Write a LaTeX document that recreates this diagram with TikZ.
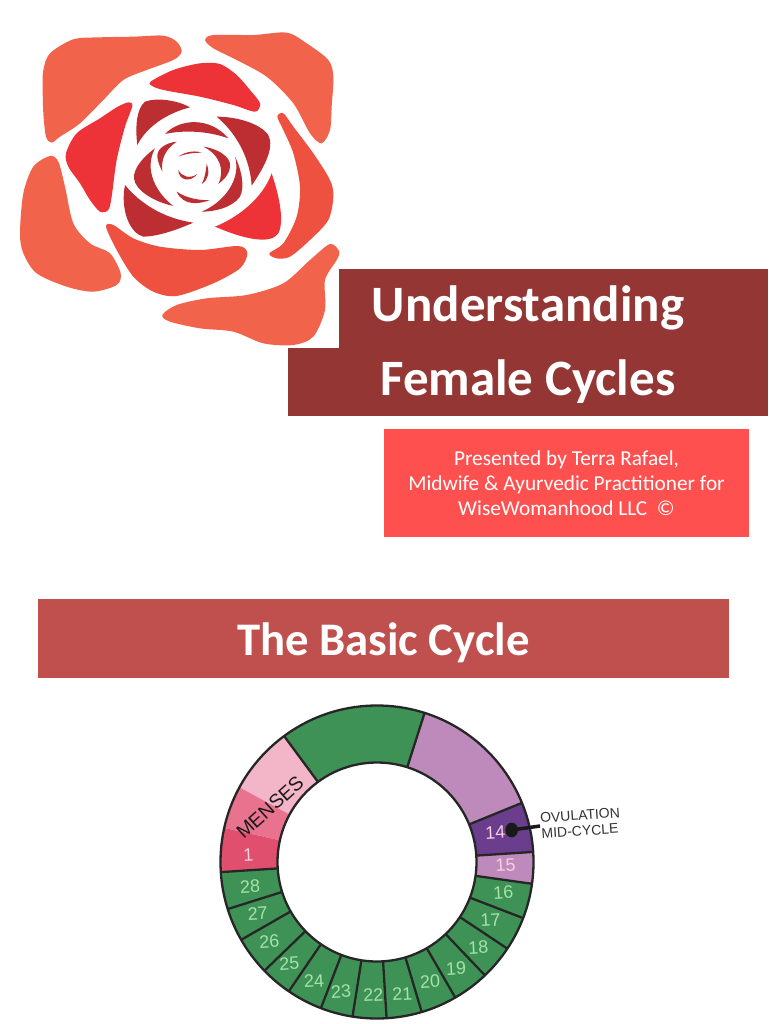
\documentclass[tikz,border=0pt]{standalone}
\usepackage{fontspec}
\setmainfont{Carlito}
\newfontfamily\arialfont{Liberation Sans}
\definecolor{petalA}{HTML}{F1634A}
\definecolor{petalB}{HTML}{EF5140}
\definecolor{petalC}{HTML}{EE3338}
\definecolor{petalD}{HTML}{BD2E33}
\definecolor{barDark}{HTML}{943634}
\definecolor{barMid}{HTML}{C0504D}
\definecolor{barBright}{HTML}{FF5050}
\definecolor{ringGreen}{HTML}{3F9255}
\definecolor{ringLilac}{HTML}{BE8ABB}
\definecolor{ringPurple}{HTML}{6A3D8D}
\definecolor{ringPaleA}{HTML}{F2B6C8}
\definecolor{ringPaleB}{HTML}{E9728F}
\definecolor{ringPaleC}{HTML}{E0506E}
\definecolor{numGreen}{HTML}{A5E3A8}
\definecolor{numPink}{HTML}{F6CFE0}
\tikzset{
  petal/.style={fill=#1,draw=none},
  daynum/.style={font=\arialfont\fontsize{18}{20}\selectfont,text=numGreen,inner sep=0pt,rotate=3},
  daypink/.style={daynum,text=numPink},
  sidelabel/.style={font=\arialfont\fontsize{14}{16}\selectfont,text=black!80,inner sep=0pt,rotate=4},
  spoke/.style={draw=black!85,line width=2.3pt},
}
\newcommand{\pet}[2]{\fill[petal=#1] plot[smooth cycle,tension=0.5] coordinates {#2};}
\newcommand{\sector}[3]{\fill[#3] (#1:156.5) arc[start angle=#1,end angle=#2,radius=156.5] -- (#2:99.5) arc[start angle=#2,end angle=#1,radius=99.5] -- cycle;}
\begin{document}
\begin{tikzpicture}[x=1pt,y=-1pt]
\useasboundingbox (0,0) rectangle (768,1024);
\fill[white] (0,0) rectangle (768,1024);
% rose, in 3x crop coordinates
\begin{scope}[shift={(0,20)},x=0.33333pt,y=-0.33333pt]
\pet{petalA}{(130,150)(150,100)(220,58)(300,52)(400,50)(490,47)(530,65)(545,95)(520,120)(440,150)(370,180)(310,240)(240,310)(180,350)(155,368)(138,350)(130,280)(128,200)}
\pet{petalA}{(615,60)(640,45)(760,45)(860,38)(920,70)(985,120)(1000,170)(995,260)(990,330)(965,370)(930,340)(880,250)(800,170)(700,115)(640,85)}
\pet{petalC}{(452,185)(520,150)(600,130)(660,132)(710,165)(750,210)(780,250)(765,275)(700,255)(600,230)(500,212)(460,200)}
\pet{petalC}{(198,400)(230,340)(300,295)(350,262)(385,247)(397,258)(375,320)(350,420)(335,530)(325,570)(300,575)(270,540)(240,490)(205,440)}
\pet{petalB}{(832,290)(850,280)(880,320)(940,400)(990,480)(1000,530)(985,600)(930,660)(870,710)(830,715)(808,700)(850,670)(890,590)(900,500)(880,400)(850,330)}
\pet{petalA}{(60,640)(70,520)(100,440)(150,408)(175,425)(195,500)(220,610)(270,670)(330,700)(362,760)(350,795)(280,815)(200,800)(110,760)(70,700)}
\pet{petalB}{(318,620)(340,615)(400,655)(480,680)(600,690)(715,678)(742,700)(720,745)(640,790)(530,828)(460,815)(400,770)(350,690)}
\pet{petalA}{(487,885)(530,855)(620,835)(740,825)(850,790)(930,720)(990,672)(1018,695)(1010,720)(975,780)(975,870)(940,950)(880,975)(790,970)(700,935)(600,925)(510,905)}
\fill[petalC] (815,460) .. controls (835,520) and (855,600) .. (835,640) .. controls (815,670) and (750,665) .. (645,620) .. controls (720,590) and (790,530) .. (815,460) -- cycle;
\fill[petalD] (375,495) .. controls (420,550) and (490,595) .. (580,608) .. controls (530,630) and (470,650) .. (430,650) .. controls (390,640) and (360,570) .. (375,495) -- cycle;
\fill[petalD] (570,262) .. controls (530,240) and (470,232) .. (435,245) .. controls (410,265) and (405,320) .. (412,375) .. controls (440,320) and (500,280) .. (570,262) -- cycle;
\fill[petalD] (495,342) .. controls (540,295) and (630,290) .. (685,355) .. controls (620,332) and (550,330) .. (495,342) -- cycle;
\fill[petalD] (650,290) .. controls (710,290) and (780,310) .. (805,345) .. controls (825,385) and (790,445) .. (755,497) .. controls (750,420) and (715,345) .. (650,290) -- cycle;
\fill[petalD] (465,385) .. controls (430,410) and (400,445) .. (402,475) .. controls (405,510) and (460,545) .. (520,558) .. controls (470,520) and (430,450) .. (465,385) -- cycle;
\fill[petalD] (530,365) .. controls (500,368) and (470,385) .. (472,410) .. controls (473,425) and (480,440) .. (487,455) .. controls (483,420) and (493,390) .. (530,365) -- cycle;
\fill[petalD] (705,410) .. controls (725,450) and (735,500) .. (720,530) .. controls (695,565) and (640,575) .. (605,575) .. controls (670,548) and (725,480) .. (705,410) -- cycle;
\fill[petalD] (610,380) .. controls (650,385) and (695,410) .. (690,440) .. controls (688,465) and (670,480) .. (655,492) .. controls (675,450) and (660,405) .. (610,380) -- cycle;
\fill[petalD] (530,515) .. controls (560,535) and (600,542) .. (630,540) .. controls (600,552) and (550,560) .. (530,515) -- cycle;
\fill[petalD] (535,410) .. controls (560,392) and (590,392) .. (605,398) .. controls (585,398) and (560,400) .. (535,410) -- cycle;
\fill[petalD] (535,450) .. controls (545,470) and (570,478) .. (592,462) .. controls (570,490) and (535,480) .. (535,450) -- cycle;
\fill[petalD] (620,432) .. controls (630,455) and (625,480) .. (605,492) .. controls (615,475) and (618,450) .. (620,432) -- cycle;
\end{scope}
% title bars
\fill[barDark] (339,269) rectangle (768,349);
\fill[barDark] (288,348) rectangle (768,416);
\node[text=white,font=\bfseries\fontsize{51}{55}\selectfont,inner sep=0pt] (t1) at (528,308) {Understanding};
\node[text=white,font=\bfseries\fontsize{51}{55}\selectfont,inner sep=0pt] (t2) at (528,382) {Female Cycles};
\node[fill=barBright,text=white,minimum width=365pt,minimum height=108pt,inner sep=0pt,align=center,font=\fontsize{21.3}{24.7}\selectfont] (sub) at (566.5,483) {Presented by Terra Rafael,\\Midwife \& Ayurvedic Practitioner for\\WiseWomanhood LLC\ \ ©};
\fill[barMid] (38,599) rectangle (729,678);
\node[text=white,inner sep=0pt,font=\bfseries\fontsize{46.7}{50}\selectfont] (banner) at (383.5,642.5) {The Basic Cycle};
% ring
\begin{scope}[shift={(377,862)},x=1pt,y=1pt]
\foreach \a/\b in {183.7/197.5,197.5/209.8,209.8/224,224/235.7,235.7/249,249/261,261/273.5,273.5/286.6,286.6/300,300/313.6,313.6/326.4,326.4/339,339/352,72.3/126.4}{\sector{\a}{\b}{ringGreen}}
\sector{-8}{3.7}{ringLilac}
\sector{3.7}{22.2}{ringPurple}
\sector{22.2}{72.3}{ringLilac}
\sector{126.4}{151.5}{ringPaleA}
\sector{151.5}{167.4}{ringPaleB}
\sector{167.4}{183.7}{ringPaleC}
\foreach \a in {183.7,197.5,209.8,224,235.7,249,261,273.5,286.6,300,313.6,326.4,339,352,3.7,22.2,72.3,126.4}{\draw[spoke] (\a:99.5) -- (\a:156.5);}
\draw[spoke] (0,0) circle[radius=156.5];
\draw[spoke] (0,0) circle[radius=99.5];
\end{scope}
% ring labels, in 3x crop coordinates
\begin{scope}[shift={(200,690)},x=0.33333pt,y=-0.33333pt]
\foreach \n/\x/\y in {28/150/590,27/173/670,26/208/755,25/268/820,24/342/873,23/423/905,22/520/915,21/607/912,20/690/875,19/768/835,18/835/772,17/872/690,16/910/607}{\node[daynum] (d\n) at (\x,\y) {\n};}
\node[daypink] (d15) at (917,525) {15};
\node[daypink] (d14) at (886,427) {14};
\node[daypink] (d1) at (145,495) {1};
\node[font=\arialfont\fontsize{19.5}{20}\selectfont,text=black!90,inner sep=0pt,rotate=42] (menses) at (210,352) {MENSES};
\node[sidelabel] (ovu) at (1140,376) {OVULATION};
\node[sidelabel] (mid) at (1140,423) {MID-CYCLE};
\coordinate (blob) at (935,420);
\coordinate (tail) at (1020,408);
\fill[black!90] (blob) ellipse[x radius=19,y radius=22];
\draw[black!90,line width=3.5pt] (blob) -- (tail);
\end{scope}
\end{tikzpicture}
\end{document}
